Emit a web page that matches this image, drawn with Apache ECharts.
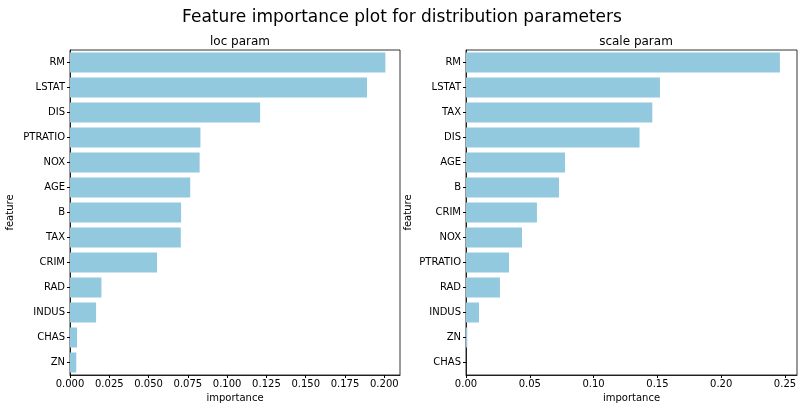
<!DOCTYPE html>
<html>
<head>
<meta charset="utf-8">
<script src="https://cdn.jsdelivr.net/npm/echarts@6/dist/echarts.min.js"></script>
<style>html,body{margin:0;padding:0;background:#fff}#chart{width:804px;height:414px}</style>
</head>
<body>
<div id="chart"></div>
<script>
// loc param
var locFeatures = ['RM', 'LSTAT', 'DIS', 'PTRATIO', 'NOX', 'AGE', 'B', 'TAX', 'CRIM', 'RAD', 'INDUS', 'CHAS', 'ZN'];
var locValues = [0.2007, 0.189, 0.121, 0.083, 0.0825, 0.0765, 0.0707, 0.0705, 0.0554, 0.020, 0.0166, 0.0045, 0.004];
// scale param
var scaleFeatures = ['RM', 'LSTAT', 'TAX', 'DIS', 'AGE', 'B', 'CRIM', 'NOX', 'PTRATIO', 'RAD', 'INDUS', 'ZN', 'CHAS'];
var scaleValues = [0.246, 0.152, 0.146, 0.136, 0.0776, 0.0729, 0.0556, 0.0439, 0.0337, 0.0266, 0.0102, 0.001, 0];

var locTicks = [0, 0.025, 0.05, 0.075, 0.1, 0.125, 0.15, 0.175, 0.2];

var barColor = '#93c9de';
var font = 'DejaVu Sans';

var myChart = echarts.init(document.getElementById('chart'));

function xAxisFor(idx, max, interval, fmt) {
    return {
        gridIndex: idx, type: 'value', min: 0, max: max, interval: interval,
        name: 'importance', nameLocation: 'middle', nameGap: 17,
        nameTextStyle: {fontSize: 10, color: '#000', fontFamily: font},
        axisLine: {show: true, onZero: false, lineStyle: {color: '#000', width: 0.8}},
        axisTick: {show: true, length: 3, lineStyle: {color: '#000'}},
        axisLabel: {fontSize: 10, color: '#000', fontFamily: font, margin: 4, formatter: fmt,
            showMaxLabel: false},
        splitLine: {show: false}
    };
}
function yAxisFor(idx, cats) {
    return {
        gridIndex: idx, type: 'category', data: cats, inverse: true,
        name: 'feature', nameLocation: 'middle', nameGap: idx == 0 ? 55 : 53,
        nameTextStyle: {fontSize: 10, color: '#000', fontFamily: font},
        axisLine: {show: true, lineStyle: {color: '#000', width: 0.8}},
        axisTick: {show: true, length: 3, alignWithLabel: true, lineStyle: {color: '#000'}},
        axisLabel: {fontSize: 10, color: '#000', fontFamily: font, margin: 5}
    };
}

var option = {
    animation: false,
    title: [
        {text: 'Feature importance plot for distribution parameters', left: 'center', top: 4,
            textStyle: {fontSize: 17, fontWeight: 'normal', color: '#000', fontFamily: font}},
        {text: 'loc param', left: 235, top: 31, textAlign: 'center',
            textStyle: {fontSize: 12, fontWeight: 'normal', color: '#000', fontFamily: font}},
        {text: 'scale param', left: 631, top: 31, textAlign: 'center',
            textStyle: {fontSize: 12, fontWeight: 'normal', color: '#000', fontFamily: font}}
    ],
    grid: [
        {left: 70, width: 330, top: 50, height: 325, show: true, borderColor: '#000', borderWidth: 0.8},
        {left: 466, width: 331, top: 50, height: 325, show: true, borderColor: '#000', borderWidth: 0.8}
    ],
    xAxis: [
        xAxisFor(0, 0.21, 0.025, function (v) { return v.toFixed(3); }),
        xAxisFor(1, 0.2594, 0.05, function (v) { return v.toFixed(2); })
    ],
    yAxis: [yAxisFor(0, locFeatures), yAxisFor(1, scaleFeatures)],
    series: [
        {type: 'bar', xAxisIndex: 0, yAxisIndex: 0, data: locValues, barCategoryGap: '20%',
            itemStyle: {color: barColor}},
        {type: 'bar', xAxisIndex: 1, yAxisIndex: 1, data: scaleValues, barCategoryGap: '20%',
            itemStyle: {color: barColor}}
    ]
};
myChart.setOption(option);
</script>
</body>
</html>
